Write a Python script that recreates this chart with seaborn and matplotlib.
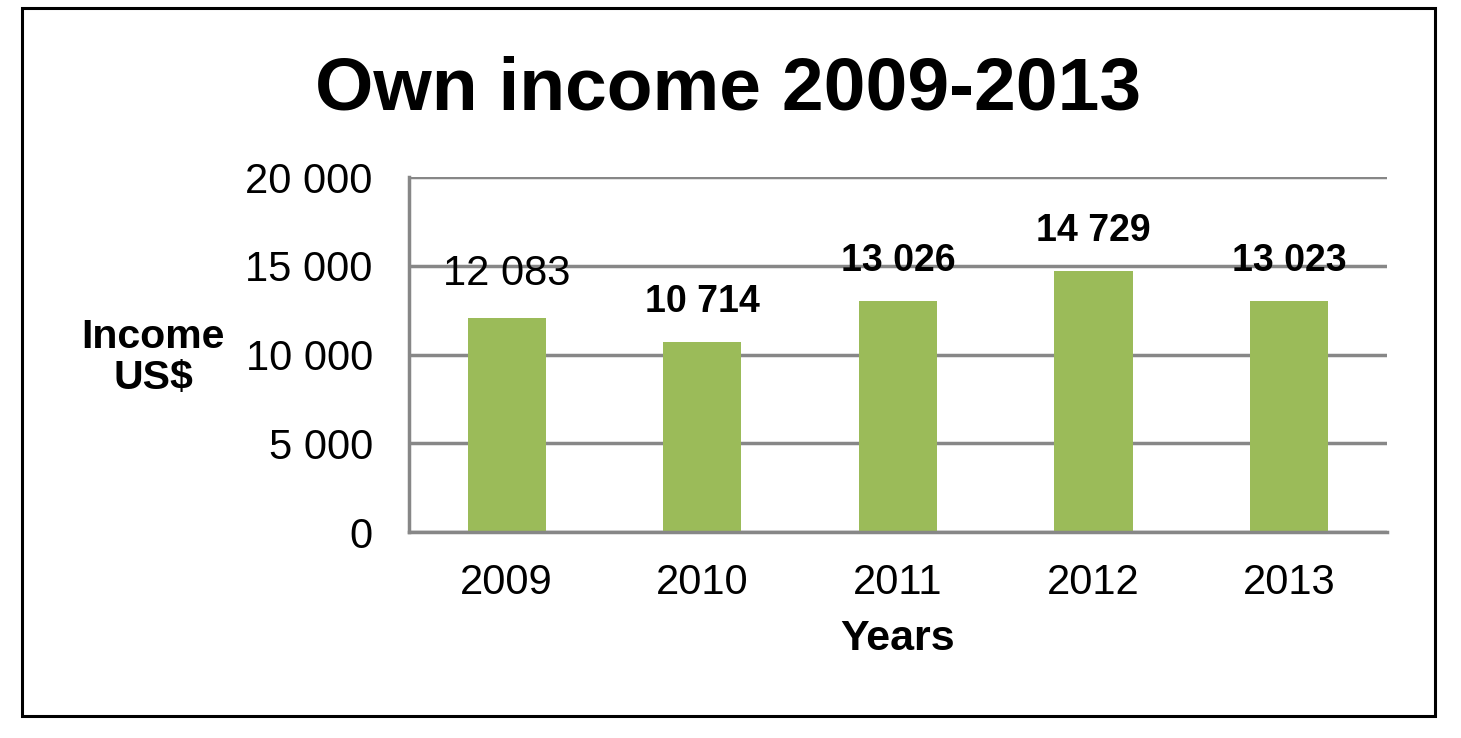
import matplotlib
matplotlib.use("Agg")
import matplotlib.pyplot as plt
import seaborn as sns
import pandas as pd
from matplotlib.patches import Rectangle
from matplotlib.ticker import FuncFormatter

years = ["2009", "2010", "2011", "2012", "2013"]
income = [12083, 10714, 13026, 14729, 13023]
label_bold = [False, True, True, True, True]

df = pd.DataFrame({"year": years, "income": income})

sns.set_style("white")
plt.rcParams["font.family"] = ["Liberation Sans", "DejaVu Sans"]
plt.rcParams["text.color"] = "black"

fig = plt.figure(figsize=(14.61, 7.38), dpi=100)
ax = fig.add_axes([0.2799, 0.2791, 0.6694, 0.4810])

sns.barplot(data=df, x="year", y="income", color="#9BBB59", width=0.4,
            saturation=1, linewidth=0, ax=ax)

ax.set_ylim(0, 20000)
ax.set_yticks([0, 5000, 10000, 15000, 20000])
ax.yaxis.set_major_formatter(FuncFormatter(lambda v, p: f"{int(v):,}".replace(",", " ")))
ax.grid(axis="y", color="#878787", linewidth=2.5)
ax.set_axisbelow(True)
for side in ["top", "right"]:
    ax.spines[side].set_visible(False)
for side in ["left", "bottom"]:
    ax.spines[side].set_color("#878787")
    ax.spines[side].set_linewidth(2.5)
ax.tick_params(axis="both", length=0, labelsize=30, colors="black")
ax.tick_params(axis="y", pad=26)
ax.tick_params(axis="x", pad=22)

for i, (v, b) in enumerate(zip(income, label_bold)):
    ax.annotate(f"{v:,}".replace(",", " "), (i, v),
                xytext=(0, 15.5 if b else 17),
                textcoords="offset points", ha="center", va="bottom",
                fontsize=27 if b else 30, color="black",
                fontweight="bold" if b else "normal")

ax.set_xlabel("Years", fontsize=31, fontweight="bold", labelpad=12, color="black")
ax.set_ylabel("")
fig.text(0.105, 0.516, "Income\nUS$", ha="center", va="center",
         fontsize=29.5, fontweight="bold", linespacing=1.1)

fig.text(0.498, 0.878, "Own income 2009-2013", ha="center", va="center",
         fontsize=54, fontweight="bold")

fig.patches.append(Rectangle((0.01506, 0.0298), 0.9671, 0.9594,
                             transform=fig.transFigure, fill=False,
                             edgecolor="black", linewidth=2.2))

fig.savefig("out.png", dpi=100)
